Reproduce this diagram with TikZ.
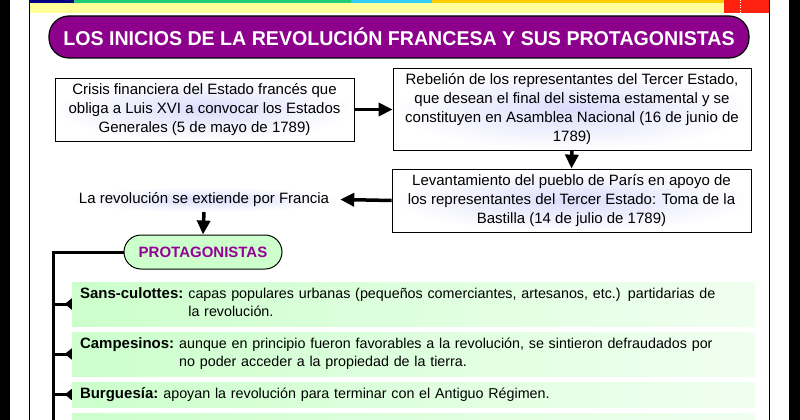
\documentclass[tikz,border=0pt]{standalone}
\usepackage{fontspec}
\setmainfont{Liberation Sans}
\usetikzlibrary{arrows.meta,shapes}
\definecolor{titulomorado}{RGB}{140,0,140}
\definecolor{protamorado}{RGB}{150,0,150}
\definecolor{verdeclaro}{RGB}{204,255,204}
\definecolor{verdepalido}{RGB}{240,255,240}
\definecolor{lila}{RGB}{220,220,252}
\definecolor{azulmarino}{RGB}{0,0,128}
\definecolor{verdefranja}{RGB}{34,204,119}
\definecolor{cianfranja}{RGB}{51,204,255}
\definecolor{naranjafranja}{RGB}{255,204,0}
\definecolor{amarillofranja}{RGB}{255,255,153}
\definecolor{rojofranja}{RGB}{255,34,17}
\newcommand{\prota}[2]{{\fontsize{15}{17.5}\selectfont\bfseries #1}\hspace{5pt}\begin{tabular}[t]{@{}l@{}}#2\end{tabular}}

\begin{document}
\begin{tikzpicture}[x=1pt,y=-1pt,
  hecho/.style={draw,line width=0.8pt,inner color=lila,outer color=white,align=center,inner sep=0pt,font=\fontsize{15}{18.8}\selectfont},
  protabox/.style={left color=verdeclaro,right color=verdepalido,text width=667pt,inner xsep=8pt,inner ysep=0pt,align=left,minimum width=683pt,font=\fontsize{14.3}{17.5}\selectfont},
  flecha/.style={line width=3.5pt,-{Triangle[length=14pt,width=13pt]}},
  tronco/.style={line width=3pt},
  ramal/.style={line width=3pt,-{Triangle[reversed,length=7pt,width=11pt]}}]
\path[use as bounding box,clip] (0,0) rectangle (800,420);
\fill[white] (0,0) rectangle (800,420);
\fill[black] (0,0) rectangle (10,420);
\fill[black] (789,0) rectangle (800,420);
\draw[line width=1pt] (29.5,0) -- (29.5,420);
\draw[line width=1pt] (769.5,0) -- (769.5,420);
\fill[azulmarino] (30,0) rectangle (74,3);
\fill[verdefranja] (74,0) rectangle (351,3);
\fill[cianfranja] (351,0) rectangle (432,3);
\fill[naranjafranja] (432,0) rectangle (724,3);
\fill[amarillofranja] (30,3) rectangle (724,13);
\fill[rojofranja] (724,0) rectangle (769,13);
\draw[white,dotted] (740,0) -- (740,13);

\node[draw,line width=1.2pt,fill=titulomorado,rounded corners=20pt,minimum width=700pt,minimum height=42pt,text=white,font=\bfseries\fontsize{20}{23}\selectfont] (titulo) at (399,37) {\scalebox{0.98}[1]{LOS INICIOS DE LA REVOLUCIÓN FRANCESA Y SUS PROTAGONISTAS}};

\node[hecho,minimum width=299pt,minimum height=63pt] (crisis) at (204.5,109.5) {Crisis financiera del Estado francés que\\obliga a Luis XVI a convocar los Estados\\Generales (5 de mayo de 1789)};
\node[hecho,minimum width=358pt,minimum height=82pt] (rebelion) at (572,109) {Rebelión de los representantes del Tercer Estado,\\que desean el final del sistema estamental y se\\constituyen en Asamblea Nacional (16 de junio de\\1789)};
\node[hecho,minimum width=359pt,minimum height=63pt] (levantamiento) at (571.5,200.5) {Levantamiento del pueblo de París en apoyo de\\los representantes del Tercer Estado: Toma de la\\Bastilla (14 de julio de 1789)};
\node[inner color=lila,outer color=white,minimum width=272pt,minimum height=25pt,inner sep=0pt,font=\fontsize{15}{18}\selectfont] (extiende) at (204,199.5) {La revolución se extiende por Francia};
\node[draw,line width=1pt,fill=verdeclaro,rounded corners=17pt,minimum width=158pt,minimum height=34pt,text=protamorado,font=\bfseries\fontsize{15}{17}\selectfont] (protag) at (203,252) {PROTAGONISTAS};

\node[protabox,minimum height=44pt] (sans) at (413.5,304) {\prota{Sans-culottes:}{capas populares urbanas (pequeños comerciantes, artesanos, etc.) partidarias de\\la revolución.}};
\node[protabox,minimum height=44pt] (campesinos) at (413.5,354) {\prota{Campesinos:}{aunque en principio fueron favorables a la revolución, se sintieron defraudados por\\no poder acceder a la propiedad de la tierra.}};
\node[protabox,minimum height=25pt] (burguesia) at (413.5,394.5) {\prota{Burguesía:}{apoyan la revolución para terminar con el Antiguo Régimen.}};
\fill[left color=verdeclaro,right color=verdepalido] (72,413) rectangle (755,440);

\coordinate (pie) at (53,430);
\draw[flecha] (crisis.east) -- (crisis.east -| rebelion.west);
\draw[flecha] (rebelion.south) -- (levantamiento.north);
\draw[flecha] (levantamiento.west) -- (extiende.east);
\draw[flecha] (extiende.south) -- (protag.north);
\draw[tronco] (protag.west) -| (pie);
\draw[ramal] (sans.west -| pie) -- (sans.west);
\draw[ramal] (campesinos.west -| pie) -- (campesinos.west);
\draw[ramal] (burguesia.west -| pie) -- (burguesia.west);
\end{tikzpicture}
\end{document}
